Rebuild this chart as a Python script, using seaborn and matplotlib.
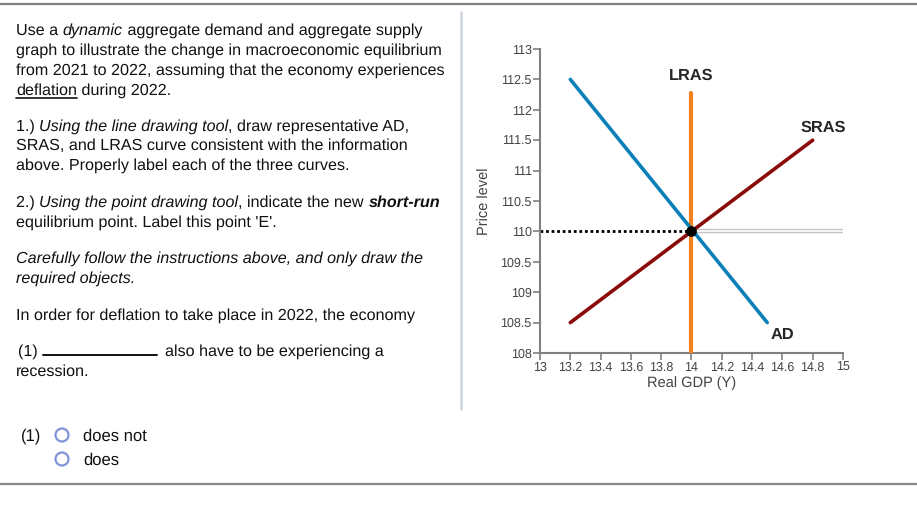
import matplotlib
matplotlib.use("Agg")
import matplotlib.pyplot as plt
import seaborn as sns
import pandas as pd
from matplotlib.transforms import IdentityTransform
from matplotlib.patches import Circle
from matplotlib.lines import Line2D

# curve data (real GDP in trillions, price level)
ad_x = [13.2, 14.5]
ad_y = [112.5, 108.5]
sras_x = [13.2, 14.8]
sras_y = [108.5, 111.5]
lras_x = [14.0, 14.0]
lras_y = [108.0, 112.27]
eq_x = [14.0]
eq_y = [110.0]

x_ticks = [13, 13.2, 13.4, 13.6, 13.8, 14, 14.2, 14.4, 14.6, 14.8, 15]
x_labels = ["13", "13.2", "13.4", "13.6", "13.8", "14", "14.2", "14.4", "14.6", "14.8", "15"]
y_ticks = [108, 108.5, 109, 109.5, 110, 110.5, 111, 111.5, 112, 112.5, 113]
y_labels = ["108", "108.5", "109", "109.5", "110", "110.5", "111", "111.5", "112", "112.5", "113"]

sns.set_style("ticks")
plt.rcParams['font.family'] = ['Liberation Sans', 'DejaVu Sans']
plt.rcParams['text.hinting'] = 'no_hinting'

W, H = 917, 508
fig = plt.figure(figsize=(W / 100, H / 100), dpi=100)
renderer = fig.canvas.get_renderer()
px = IdentityTransform()

# page lines
fig.add_artist(Line2D([0, W], [H - 3.5, H - 3.5], transform=px, color="#808080", lw=1.6))
fig.add_artist(Line2D([0, W], [H - 484, H - 484], transform=px, color="#8a8a8a", lw=1.6))
fig.add_artist(Line2D([461, 461], [H - 12, H - 409], transform=px, color="#cdd5e0", lw=1.8))

FS = 11.65

def put(x, y, segs, size=FS):
    # write a line made of styled pieces, left to right
    y = y + 1
    for txt, style in segs:
        kw = {}
        if "i" in style:
            kw["style"] = "italic"
        if "b" in style:
            kw["weight"] = "bold"
        t = fig.text(x, H - y, txt, transform=px, fontsize=size, va="center",
                     ha="left", color="#111111", **kw)
        w = t.get_window_extent(renderer).width
        if "u" in style:
            fig.add_artist(Line2D([x, x + w], [H - y - 7, H - y - 7], transform=px,
                                  color="#111111", lw=1.2))
        x += w
    return x

L = 16
put(L, 30, [("Use a ", ""), ("dynamic", "i"), (" aggregate demand and aggregate supply", "")])
put(L, 50, [("graph to illustrate the change in macroeconomic equilibrium", "")])
put(L, 70, [("from 2021 to 2022, assuming that the economy experiences", "")])
put(L, 90, [("deflation", "u"), (" during 2022.", "")])

put(L, 126, [("1.) ", ""), ("Using the line drawing tool", "i"), (", draw representative AD,", "")])
put(L, 145, [("SRAS, and LRAS curve consistent with the information", "")])
put(L, 165, [("above. Properly label each of the three curves.", "")])

put(L, 202, [("2.) ", ""), ("Using the point drawing tool", "i"), (", indicate the new ", ""), ("short-run", "bi")])
put(L, 222, [("equilibrium point. Label this point 'E'.", "")])

put(L, 258, [("Carefully follow the instructions above, and only draw the", "i")])
put(L, 278, [("required objects.", "i")])

put(L, 315, [("In order for deflation to take place in 2022, the economy", "")])

put(18, 351, [("(1)", "")])
fig.add_artist(Line2D([43, 157], [H - 355, H - 355], transform=px, color="#111111", lw=1.4))
put(165, 351, [("also have to be experiencing a", "")])
put(L, 371, [("recession.", "")])

put(21, 435, [("(1)", "")], size=12)
for cy in (435, 459):
    fig.add_artist(Circle((62, H - cy), 6.5, transform=px, fill=False,
                          edgecolor="#7f93d8", lw=1.6))
put(83, 435, [("does not", "")], size=12)
put(83, 459, [("does", "")], size=12)

# chart
ax = fig.add_axes([540 / W, 1 - 353 / H, 303 / W, 304 / H])
ax.set_xlim(13, 15)
ax.set_ylim(108, 113)

ax.plot([14, 15], [110, 110], color="#c4c4c4", lw=3.2, solid_capstyle="butt", zorder=1)
ax.plot([14, 15], [110, 110], color="white", lw=1.2, solid_capstyle="butt", zorder=1)
ax.plot([13, 14], [110, 110], color="black", lw=2, ls=(0, (1, 1)), zorder=2)

sns.lineplot(x=lras_x, y=lras_y, ax=ax, color="#f5821f", lw=3, estimator=None,
             sort=False, zorder=3)
sns.lineplot(x=ad_x, y=ad_y, ax=ax, color="#0b80b8", lw=2.6, estimator=None,
             sort=False, zorder=4)
sns.lineplot(x=sras_x, y=sras_y, ax=ax, color="#8b0b0b", lw=2.6, estimator=None,
             sort=False, zorder=4)
sns.scatterplot(x=eq_x, y=eq_y, ax=ax, color="black", s=50, zorder=6, edgecolor="black")

ax.text(14.0, 112.56, "LRAS", fontsize=11.8, weight="bold", ha="center", va="center")
ax.text(14.87, 111.71, "SRAS", fontsize=11.8, weight="bold", ha="center", va="center")
ax.text(14.6, 108.3, "AD", fontsize=11.8, weight="bold", ha="center", va="center")

ax.set_xticks(x_ticks)
ax.set_xticklabels(x_labels)
ax.set_yticks(y_ticks)
ax.set_yticklabels(y_labels)
ax.tick_params(colors="#808080", labelcolor="#444444", labelsize=9, length=5,
               width=1.2, pad=1)
for s in ("left", "bottom"):
    ax.spines[s].set_color("#808080")
    ax.spines[s].set_linewidth(1.5)
sns.despine(ax=ax)
ax.set_xlabel("Real GDP (Y)", fontsize=10.5, color="#444444", labelpad=2)
ax.set_ylabel("Price level", fontsize=10.5, color="#444444", labelpad=6)
ax.set_clip_on(False)

fig.savefig("out.png", dpi=100, facecolor="white")
